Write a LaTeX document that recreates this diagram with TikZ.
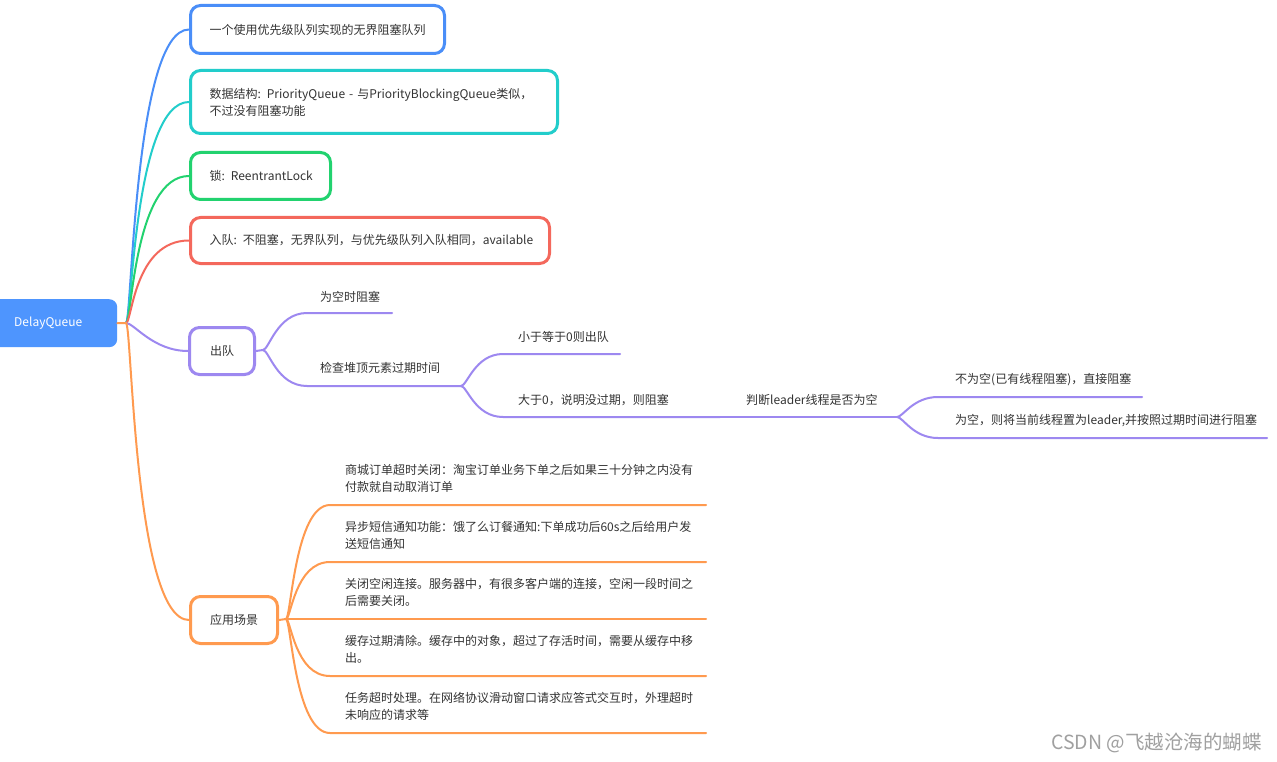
\documentclass[tikz,border=0pt]{standalone}
\usepackage{fontspec}
\setmainfont{Noto Sans CJK SC}
\definecolor{cblue}{HTML}{4A8EF8}
\definecolor{ccyan}{HTML}{22CDCB}
\definecolor{cgreen}{HTML}{22D26F}
\definecolor{cred}{HTML}{F4685C}
\definecolor{cpurple}{HTML}{9D88F0}
\definecolor{corange}{HTML}{FF9A4F}
\definecolor{croot}{HTML}{4E95FE}
\definecolor{txt}{HTML}{333333}
\definecolor{wmark}{HTML}{A0A0A0}
\tikzset{
  boxnode/.style={draw=#1, line width=3pt, rounded corners=10pt, anchor=north west,
    inner xsep=19pt, inner ysep=0pt, align=left, text=txt,
    font=\fontsize{12}{17}\selectfont},
  cbox/.style={draw=#1, line width=3pt, rounded corners=10pt, anchor=north west,
    inner sep=0pt, align=center, text=txt, font=\fontsize{12}{17}\selectfont},
  lbl/.style={anchor=west, inner sep=0pt, align=left, text=txt,
    font=\fontsize{12}{17}\selectfont},
  link/.style={line width=2pt, draw=#1, line cap=round},
}
\begin{document}
\begin{tikzpicture}[x=1pt,y=-1pt]
\useasboundingbox[fill=white] (0,0) rectangle (1277,762);

% root
\node[fill=croot, rounded corners=8pt, anchor=north west, minimum width=127pt,
  minimum height=48pt, inner xsep=24pt, inner ysep=0pt, text width=79pt,
  align=left, text=white, font=\fontsize{12}{17}\selectfont] (root) at (-10,299) {DelayQueue};
\coordinate (rf) at (126,323);

% first-level boxes
\node[boxnode=cblue, minimum height=48pt, text width=216pt] (b1) at (189,4)
  {\mbox{一个使用优先级队列实现的无界阻塞队列}};
\node[boxnode=ccyan, minimum height=63pt, text width=329pt] (b2) at (189,69)
  {\mbox{数据结构: PriorityQueue - 与PriorityBlockingQueue类似，}\\\mbox{不过没有阻塞功能}};
\node[boxnode=cgreen, minimum height=47pt, text width=102pt] (b3) at (189,151)
  {\mbox{锁: ReentrantLock}};
\node[boxnode=cred, minimum height=46pt, text width=321pt] (b4) at (189,216)
  {\mbox{入队: 不阻塞，无界队列，与优先级队列入队相同，available}};
\node[cbox=cpurple, minimum width=65pt, minimum height=47pt] (q) at (188,326) {出队};
\node[cbox=corange, minimum width=87pt, minimum height=47pt] (app) at (189,595) {应用场景};

% root connectors
\draw[link=cblue] (rf) .. controls +(6,0) and +(-55,0) .. (b1.west);
\draw[link=ccyan] (rf) .. controls +(6,0) and +(-55,0) .. (b2.west);
\draw[link=cgreen] (rf) .. controls +(6,0) and +(-55,0) .. (b3.west);
\draw[link=cred] (rf) .. controls +(6,0) and +(-55,0) .. (b4.west);
\draw[link=cpurple] (rf) .. controls +(8,0) and +(-35,0) .. (q.west);
\draw[link=corange] (rf) .. controls +(6,0) and +(-55,0) .. (app.west);
\draw[link=corange] (root.east) -- (rf);

% dequeue subtree
\coordinate (f1) at (263,350);
\coordinate (u1s) at (307,313); \coordinate (u1e) at (392,313);
\coordinate (u2s) at (307,386); \coordinate (f2) at (461,386);
\node[lbl] (t1) at (320,297) {为空时阻塞};
\node[lbl] (t2) at (320,368) {检查堆顶元素过期时间};
\draw[link=cpurple] (q.east) -- (f1);
\draw[link=cpurple] (f1) .. controls +(6,0) and +(-30,0) .. (u1s) -- (u1e);
\draw[link=cpurple] (f1) .. controls +(6,0) and +(-30,0) .. (u2s) -- (f2);

\coordinate (u3s) at (503,354); \coordinate (u3e) at (620,354);
\coordinate (u4s) at (503,417); \coordinate (u4e) at (720,417);
\coordinate (f3) at (897,417);
\node[lbl] (t3) at (518,337) {小于等于0则出队};
\node[lbl] (t4) at (518,400) {大于0，说明没过期，则阻塞};
\node[lbl] (t5) at (746,400) {判断leader线程是否为空};
\draw[link=cpurple] (f2) .. controls +(6,0) and +(-28,0) .. (u3s) -- (u3e);
\draw[link=cpurple] (f2) .. controls +(6,0) and +(-28,0) .. (u4s) -- (u4e);
\draw[link=cpurple] (u4e) -- (f3);

\coordinate (u5s) at (938,397); \coordinate (u5e) at (1142,397);
\coordinate (u6s) at (938,438); \coordinate (u6e) at (1267,438);
\node[lbl] (t6) at (955,380) {不为空(已有线程阻塞)，直接阻塞};
\node[lbl] (t7) at (955,421) {为空，则将当前线程置为leader,并按照过期时间进行阻塞};
\draw[link=cpurple] (f3) .. controls +(6,0) and +(-25,0) .. (u5s) -- (u5e);
\draw[link=cpurple] (f3) .. controls +(6,0) and +(-25,0) .. (u6s) -- (u6e);

% application subtree
\coordinate (f4) at (286,619);
\draw[link=corange] (app.east) -- (f4);
\coordinate (a1s) at (330,505); \coordinate (a1e) at (706,505);
\coordinate (a2s) at (330,562); \coordinate (a2e) at (706,562);
\coordinate (a3e) at (706,619);
\coordinate (a4s) at (330,676); \coordinate (a4e) at (706,676);
\coordinate (a5s) at (330,733); \coordinate (a5e) at (706,733);
\node[lbl] (s1) at (345,478.5) {商城订单超时关闭：淘宝订单业务下单之后如果三十分钟之内没有\\付款就自动取消订单};
\node[lbl] (s2) at (345,535.5) {异步短信通知功能：饿了么订餐通知:下单成功后60s之后给用户发\\送短信通知};
\node[lbl] (s3) at (345,592.5) {关闭空闲连接。服务器中，有很多客户端的连接，空闲一段时间之\\后需要关闭。};
\node[lbl] (s4) at (345,649.5) {缓存过期清除。缓存中的对象，超过了存活时间，需要从缓存中移\\出。};
\node[lbl] (s5) at (345,706.5) {任务超时处理。在网络协议滑动窗口请求应答式交互时，外理超时\\未响应的请求等};
\draw[link=corange] (f4) .. controls +(5,0) and +(-35,0) .. (a1s) -- (a1e);
\draw[link=corange] (f4) .. controls +(5,0) and +(-35,0) .. (a2s) -- (a2e);
\draw[link=corange] (f4) -- (a3e);
\draw[link=corange] (f4) .. controls +(5,0) and +(-35,0) .. (a4s) -- (a4e);
\draw[link=corange] (f4) .. controls +(5,0) and +(-35,0) .. (a5s) -- (a5e);

% watermark
\node[anchor=east, inner sep=0pt, text=wmark, font=\fontsize{19.5}{21}\selectfont] (wm) at (1262,743) {CSDN @飞越沧海的蝴蝶};
\end{tikzpicture}
\end{document}
